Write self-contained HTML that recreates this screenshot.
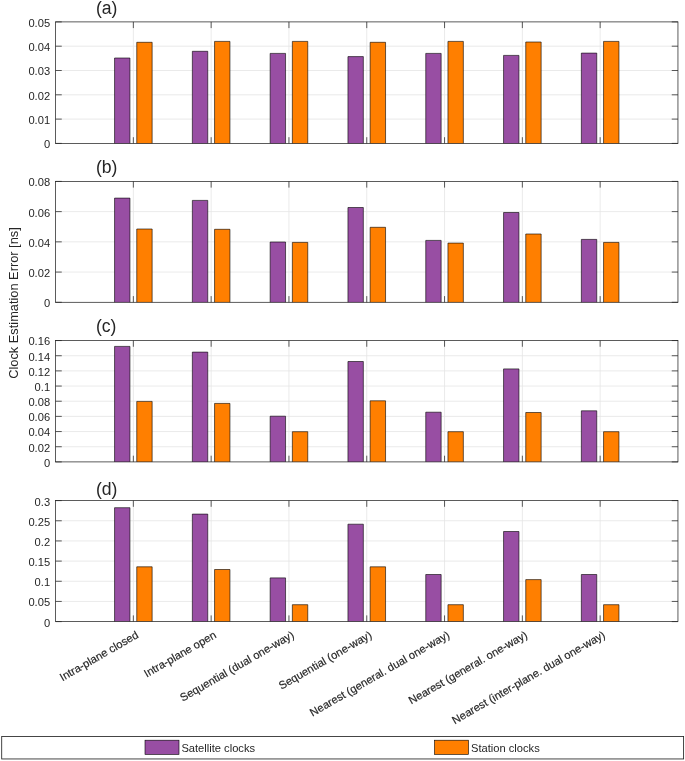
<!DOCTYPE html>
<html><head><meta charset="utf-8"><title>Clock Estimation Error</title>
<style>html,body{margin:0;padding:0;background:#fff}svg{display:block}text{font-family:"Liberation Sans",sans-serif;fill:#262626}</style></head><body>
<svg width="685" height="761" viewBox="0 0 685 761">
<rect width="685" height="761" fill="#fff"/>
<path d="M133.35 21.90V143.40M211.15 21.90V143.40M288.95 21.90V143.40M366.75 21.90V143.40M444.55 21.90V143.40M522.35 21.90V143.40M600.15 21.90V143.40M55.55 119.10H677.95M55.55 94.80H677.95M55.55 70.50H677.95M55.55 46.20H677.95" stroke="#e4e4e4" stroke-width="0.8" fill="none"/>
<path d="M114.55 143.40V58.00H129.95V143.40" fill="#984ea3" stroke="#000" stroke-width="0.6"/>
<path d="M136.75 143.40V42.30H152.15V143.40" fill="#ff7f00" stroke="#000" stroke-width="0.6"/>
<path d="M192.35 143.40V51.30H207.75V143.40" fill="#984ea3" stroke="#000" stroke-width="0.6"/>
<path d="M214.55 143.40V41.40H229.95V143.40" fill="#ff7f00" stroke="#000" stroke-width="0.6"/>
<path d="M270.15 143.40V53.40H285.55V143.40" fill="#984ea3" stroke="#000" stroke-width="0.6"/>
<path d="M292.35 143.40V41.40H307.75V143.40" fill="#ff7f00" stroke="#000" stroke-width="0.6"/>
<path d="M347.95 143.40V56.60H363.35V143.40" fill="#984ea3" stroke="#000" stroke-width="0.6"/>
<path d="M370.15 143.40V42.30H385.55V143.40" fill="#ff7f00" stroke="#000" stroke-width="0.6"/>
<path d="M425.75 143.40V53.40H441.15V143.40" fill="#984ea3" stroke="#000" stroke-width="0.6"/>
<path d="M447.95 143.40V41.40H463.35V143.40" fill="#ff7f00" stroke="#000" stroke-width="0.6"/>
<path d="M503.55 143.40V55.40H518.95V143.40" fill="#984ea3" stroke="#000" stroke-width="0.6"/>
<path d="M525.75 143.40V42.00H541.15V143.40" fill="#ff7f00" stroke="#000" stroke-width="0.6"/>
<path d="M581.35 143.40V53.10H596.75V143.40" fill="#984ea3" stroke="#000" stroke-width="0.6"/>
<path d="M603.55 143.40V41.40H618.95V143.40" fill="#ff7f00" stroke="#000" stroke-width="0.6"/>
<path d="M133.35 143.40v-6.2M133.35 21.90v6.2M211.15 143.40v-6.2M211.15 21.90v6.2M288.95 143.40v-6.2M288.95 21.90v6.2M366.75 143.40v-6.2M366.75 21.90v6.2M444.55 143.40v-6.2M444.55 21.90v6.2M522.35 143.40v-6.2M522.35 21.90v6.2M600.15 143.40v-6.2M600.15 21.90v6.2M55.55 143.40h6.2M677.95 143.40h-6.2M55.55 119.10h6.2M677.95 119.10h-6.2M55.55 94.80h6.2M677.95 94.80h-6.2M55.55 70.50h6.2M677.95 70.50h-6.2M55.55 46.20h6.2M677.95 46.20h-6.2M55.55 21.90h6.2M677.95 21.90h-6.2" stroke="#262626" stroke-width="0.75" fill="none"/>
<rect x="55.55" y="21.90" width="622.40" height="121.50" fill="none" stroke="#262626" stroke-width="0.75"/>
<text x="50.1" y="148.30" font-size="11.15" text-anchor="end">0</text>
<text x="50.1" y="124.00" font-size="11.15" text-anchor="end">0.01</text>
<text x="50.1" y="99.70" font-size="11.15" text-anchor="end">0.02</text>
<text x="50.1" y="75.40" font-size="11.15" text-anchor="end">0.03</text>
<text x="50.1" y="51.10" font-size="11.15" text-anchor="end">0.04</text>
<text x="50.1" y="26.80" font-size="11.15" text-anchor="end">0.05</text>
<text x="95.9" y="13.70" font-size="17.6" fill="#000">(a)</text>
<path d="M133.35 181.40V302.30M211.15 181.40V302.30M288.95 181.40V302.30M366.75 181.40V302.30M444.55 181.40V302.30M522.35 181.40V302.30M600.15 181.40V302.30M55.55 272.07H677.95M55.55 241.85H677.95M55.55 211.62H677.95" stroke="#e4e4e4" stroke-width="0.8" fill="none"/>
<path d="M114.55 302.30V198.10H129.95V302.30" fill="#984ea3" stroke="#000" stroke-width="0.6"/>
<path d="M136.75 302.30V229.00H152.15V302.30" fill="#ff7f00" stroke="#000" stroke-width="0.6"/>
<path d="M192.35 302.30V200.40H207.75V302.30" fill="#984ea3" stroke="#000" stroke-width="0.6"/>
<path d="M214.55 302.30V229.30H229.95V302.30" fill="#ff7f00" stroke="#000" stroke-width="0.6"/>
<path d="M270.15 302.30V242.00H285.55V302.30" fill="#984ea3" stroke="#000" stroke-width="0.6"/>
<path d="M292.35 302.30V242.40H307.75V302.30" fill="#ff7f00" stroke="#000" stroke-width="0.6"/>
<path d="M347.95 302.30V207.50H363.35V302.30" fill="#984ea3" stroke="#000" stroke-width="0.6"/>
<path d="M370.15 302.30V227.30H385.55V302.30" fill="#ff7f00" stroke="#000" stroke-width="0.6"/>
<path d="M425.75 302.30V240.40H441.15V302.30" fill="#984ea3" stroke="#000" stroke-width="0.6"/>
<path d="M447.95 302.30V243.10H463.35V302.30" fill="#ff7f00" stroke="#000" stroke-width="0.6"/>
<path d="M503.55 302.30V212.50H518.95V302.30" fill="#984ea3" stroke="#000" stroke-width="0.6"/>
<path d="M525.75 302.30V234.00H541.15V302.30" fill="#ff7f00" stroke="#000" stroke-width="0.6"/>
<path d="M581.35 302.30V239.40H596.75V302.30" fill="#984ea3" stroke="#000" stroke-width="0.6"/>
<path d="M603.55 302.30V242.40H618.95V302.30" fill="#ff7f00" stroke="#000" stroke-width="0.6"/>
<path d="M133.35 302.30v-6.2M133.35 181.40v6.2M211.15 302.30v-6.2M211.15 181.40v6.2M288.95 302.30v-6.2M288.95 181.40v6.2M366.75 302.30v-6.2M366.75 181.40v6.2M444.55 302.30v-6.2M444.55 181.40v6.2M522.35 302.30v-6.2M522.35 181.40v6.2M600.15 302.30v-6.2M600.15 181.40v6.2M55.55 302.30h6.2M677.95 302.30h-6.2M55.55 272.07h6.2M677.95 272.07h-6.2M55.55 241.85h6.2M677.95 241.85h-6.2M55.55 211.62h6.2M677.95 211.62h-6.2M55.55 181.40h6.2M677.95 181.40h-6.2" stroke="#262626" stroke-width="0.75" fill="none"/>
<rect x="55.55" y="181.40" width="622.40" height="120.90" fill="none" stroke="#262626" stroke-width="0.75"/>
<text x="50.1" y="307.20" font-size="11.15" text-anchor="end">0</text>
<text x="50.1" y="276.97" font-size="11.15" text-anchor="end">0.02</text>
<text x="50.1" y="246.75" font-size="11.15" text-anchor="end">0.04</text>
<text x="50.1" y="216.53" font-size="11.15" text-anchor="end">0.06</text>
<text x="50.1" y="186.30" font-size="11.15" text-anchor="end">0.08</text>
<text x="95.9" y="173.10" font-size="17.6" fill="#000">(b)</text>
<path d="M133.35 340.55V461.90M211.15 340.55V461.90M288.95 340.55V461.90M366.75 340.55V461.90M444.55 340.55V461.90M522.35 340.55V461.90M600.15 340.55V461.90M55.55 446.73H677.95M55.55 431.56H677.95M55.55 416.39H677.95M55.55 401.23H677.95M55.55 386.06H677.95M55.55 370.89H677.95M55.55 355.72H677.95" stroke="#e4e4e4" stroke-width="0.8" fill="none"/>
<path d="M114.55 461.90V346.40H129.95V461.90" fill="#984ea3" stroke="#000" stroke-width="0.6"/>
<path d="M136.75 461.90V401.40H152.15V461.90" fill="#ff7f00" stroke="#000" stroke-width="0.6"/>
<path d="M192.35 461.90V352.10H207.75V461.90" fill="#984ea3" stroke="#000" stroke-width="0.6"/>
<path d="M214.55 461.90V403.40H229.95V461.90" fill="#ff7f00" stroke="#000" stroke-width="0.6"/>
<path d="M270.15 461.90V416.20H285.55V461.90" fill="#984ea3" stroke="#000" stroke-width="0.6"/>
<path d="M292.35 461.90V431.70H307.75V461.90" fill="#ff7f00" stroke="#000" stroke-width="0.6"/>
<path d="M347.95 461.90V361.50H363.35V461.90" fill="#984ea3" stroke="#000" stroke-width="0.6"/>
<path d="M370.15 461.90V400.80H385.55V461.90" fill="#ff7f00" stroke="#000" stroke-width="0.6"/>
<path d="M425.75 461.90V412.20H441.15V461.90" fill="#984ea3" stroke="#000" stroke-width="0.6"/>
<path d="M447.95 461.90V431.70H463.35V461.90" fill="#ff7f00" stroke="#000" stroke-width="0.6"/>
<path d="M503.55 461.90V368.90H518.95V461.90" fill="#984ea3" stroke="#000" stroke-width="0.6"/>
<path d="M525.75 461.90V412.50H541.15V461.90" fill="#ff7f00" stroke="#000" stroke-width="0.6"/>
<path d="M581.35 461.90V410.80H596.75V461.90" fill="#984ea3" stroke="#000" stroke-width="0.6"/>
<path d="M603.55 461.90V431.70H618.95V461.90" fill="#ff7f00" stroke="#000" stroke-width="0.6"/>
<path d="M133.35 461.90v-6.2M133.35 340.55v6.2M211.15 461.90v-6.2M211.15 340.55v6.2M288.95 461.90v-6.2M288.95 340.55v6.2M366.75 461.90v-6.2M366.75 340.55v6.2M444.55 461.90v-6.2M444.55 340.55v6.2M522.35 461.90v-6.2M522.35 340.55v6.2M600.15 461.90v-6.2M600.15 340.55v6.2M55.55 461.90h6.2M677.95 461.90h-6.2M55.55 446.73h6.2M677.95 446.73h-6.2M55.55 431.56h6.2M677.95 431.56h-6.2M55.55 416.39h6.2M677.95 416.39h-6.2M55.55 401.23h6.2M677.95 401.23h-6.2M55.55 386.06h6.2M677.95 386.06h-6.2M55.55 370.89h6.2M677.95 370.89h-6.2M55.55 355.72h6.2M677.95 355.72h-6.2M55.55 340.55h6.2M677.95 340.55h-6.2" stroke="#262626" stroke-width="0.75" fill="none"/>
<rect x="55.55" y="340.55" width="622.40" height="121.35" fill="none" stroke="#262626" stroke-width="0.75"/>
<text x="50.1" y="466.80" font-size="11.15" text-anchor="end">0</text>
<text x="50.1" y="451.63" font-size="11.15" text-anchor="end">0.02</text>
<text x="50.1" y="436.46" font-size="11.15" text-anchor="end">0.04</text>
<text x="50.1" y="421.29" font-size="11.15" text-anchor="end">0.06</text>
<text x="50.1" y="406.12" font-size="11.15" text-anchor="end">0.08</text>
<text x="50.1" y="390.96" font-size="11.15" text-anchor="end">0.1</text>
<text x="50.1" y="375.79" font-size="11.15" text-anchor="end">0.12</text>
<text x="50.1" y="360.62" font-size="11.15" text-anchor="end">0.14</text>
<text x="50.1" y="345.45" font-size="11.15" text-anchor="end">0.16</text>
<text x="95.9" y="332.35" font-size="17.6" fill="#000">(c)</text>
<path d="M133.35 500.60V621.60M211.15 500.60V621.60M288.95 500.60V621.60M366.75 500.60V621.60M444.55 500.60V621.60M522.35 500.60V621.60M600.15 500.60V621.60M55.55 601.43H677.95M55.55 581.27H677.95M55.55 561.10H677.95M55.55 540.93H677.95M55.55 520.77H677.95" stroke="#e4e4e4" stroke-width="0.8" fill="none"/>
<path d="M114.55 621.60V507.70H129.95V621.60" fill="#984ea3" stroke="#000" stroke-width="0.6"/>
<path d="M136.75 621.60V566.80H152.15V621.60" fill="#ff7f00" stroke="#000" stroke-width="0.6"/>
<path d="M192.35 621.60V514.10H207.75V621.60" fill="#984ea3" stroke="#000" stroke-width="0.6"/>
<path d="M214.55 621.60V569.50H229.95V621.60" fill="#ff7f00" stroke="#000" stroke-width="0.6"/>
<path d="M270.15 621.60V577.90H285.55V621.60" fill="#984ea3" stroke="#000" stroke-width="0.6"/>
<path d="M292.35 621.60V604.70H307.75V621.60" fill="#ff7f00" stroke="#000" stroke-width="0.6"/>
<path d="M347.95 621.60V524.20H363.35V621.60" fill="#984ea3" stroke="#000" stroke-width="0.6"/>
<path d="M370.15 621.60V566.80H385.55V621.60" fill="#ff7f00" stroke="#000" stroke-width="0.6"/>
<path d="M425.75 621.60V574.50H441.15V621.60" fill="#984ea3" stroke="#000" stroke-width="0.6"/>
<path d="M447.95 621.60V604.70H463.35V621.60" fill="#ff7f00" stroke="#000" stroke-width="0.6"/>
<path d="M503.55 621.60V531.50H518.95V621.60" fill="#984ea3" stroke="#000" stroke-width="0.6"/>
<path d="M525.75 621.60V579.60H541.15V621.60" fill="#ff7f00" stroke="#000" stroke-width="0.6"/>
<path d="M581.35 621.60V574.50H596.75V621.60" fill="#984ea3" stroke="#000" stroke-width="0.6"/>
<path d="M603.55 621.60V604.70H618.95V621.60" fill="#ff7f00" stroke="#000" stroke-width="0.6"/>
<path d="M133.35 621.60v-6.2M133.35 500.60v6.2M211.15 621.60v-6.2M211.15 500.60v6.2M288.95 621.60v-6.2M288.95 500.60v6.2M366.75 621.60v-6.2M366.75 500.60v6.2M444.55 621.60v-6.2M444.55 500.60v6.2M522.35 621.60v-6.2M522.35 500.60v6.2M600.15 621.60v-6.2M600.15 500.60v6.2M55.55 621.60h6.2M677.95 621.60h-6.2M55.55 601.43h6.2M677.95 601.43h-6.2M55.55 581.27h6.2M677.95 581.27h-6.2M55.55 561.10h6.2M677.95 561.10h-6.2M55.55 540.93h6.2M677.95 540.93h-6.2M55.55 520.77h6.2M677.95 520.77h-6.2M55.55 500.60h6.2M677.95 500.60h-6.2" stroke="#262626" stroke-width="0.75" fill="none"/>
<rect x="55.55" y="500.60" width="622.40" height="121.00" fill="none" stroke="#262626" stroke-width="0.75"/>
<text x="50.1" y="626.50" font-size="11.15" text-anchor="end">0</text>
<text x="50.1" y="606.33" font-size="11.15" text-anchor="end">0.05</text>
<text x="50.1" y="586.17" font-size="11.15" text-anchor="end">0.1</text>
<text x="50.1" y="566.00" font-size="11.15" text-anchor="end">0.15</text>
<text x="50.1" y="545.83" font-size="11.15" text-anchor="end">0.2</text>
<text x="50.1" y="525.67" font-size="11.15" text-anchor="end">0.25</text>
<text x="50.1" y="505.50" font-size="11.15" text-anchor="end">0.3</text>
<text x="95.9" y="494.90" font-size="17.6" fill="#000">(d)</text>
<text transform="translate(17.8,303.0) rotate(-90)" font-size="12.8" text-anchor="middle">Clock Estimation Error [ns]</text>
<text transform="translate(139.25,637.10) rotate(-30)" font-size="11.15" text-anchor="end" stroke="#262626" stroke-width="0.18">Intra-plane closed</text>
<text transform="translate(217.05,637.10) rotate(-30)" font-size="11.15" text-anchor="end" stroke="#262626" stroke-width="0.18">Intra-plane open</text>
<text transform="translate(294.85,637.10) rotate(-30)" font-size="11.15" text-anchor="end" stroke="#262626" stroke-width="0.18">Sequential (dual one-way)</text>
<text transform="translate(372.65,637.10) rotate(-30)" font-size="11.15" text-anchor="end" stroke="#262626" stroke-width="0.18">Sequential (one-way)</text>
<text transform="translate(450.45,637.10) rotate(-30)" font-size="11.15" text-anchor="end" stroke="#262626" stroke-width="0.18">Nearest (general. dual one-way)</text>
<text transform="translate(528.25,637.10) rotate(-30)" font-size="11.15" text-anchor="end" stroke="#262626" stroke-width="0.18">Nearest (general. one-way)</text>
<text transform="translate(606.05,637.10) rotate(-30)" font-size="11.15" text-anchor="end" stroke="#262626" stroke-width="0.18">Nearest (inter-plane. dual one-way)</text>
<rect x="1.7" y="736.55" width="681.9" height="22.4" fill="#fff" stroke="#262626" stroke-width="0.85"/>
<rect x="145" y="740.2" width="34" height="14.2" fill="#984ea3" stroke="#000" stroke-width="0.6"/>
<text x="181.4" y="752" font-size="11.15" fill="#000">Satellite clocks</text>
<rect x="434.5" y="740.2" width="34" height="14.2" fill="#ff7f00" stroke="#000" stroke-width="0.6"/>
<text x="471" y="752" font-size="11.15" fill="#000">Station clocks</text>
</svg></body></html>
